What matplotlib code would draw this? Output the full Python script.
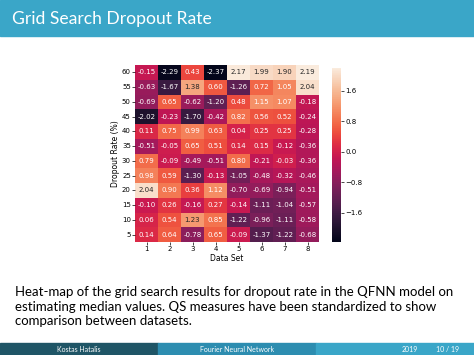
import matplotlib
matplotlib.use("Agg")
import matplotlib.pyplot as plt
import matplotlib.patches as mpatches
import numpy as np
import seaborn as sns

# Data
dropout_rates = [60, 55, 50, 45, 40, 35, 30, 25, 20, 15, 10, 5]
data_sets = [1, 2, 3, 4, 5, 6, 7, 8]
scores = [
    [-0.15, -2.29, 0.43, -2.37, 2.17, 1.99, 1.90, 2.19],
    [-0.63, -1.67, 1.38, 0.60, -1.26, 0.72, 1.05, 2.04],
    [-0.69, 0.65, -0.62, -1.20, 0.48, 1.15, 1.07, -0.18],
    [-2.02, -0.23, -1.70, -0.42, 0.82, 0.56, 0.52, -0.24],
    [0.11, 0.75, 0.99, 0.63, 0.04, 0.25, 0.25, -0.28],
    [-0.51, -0.05, 0.65, 0.51, 0.14, 0.15, -0.12, -0.36],
    [0.79, -0.09, -0.49, -0.51, 0.80, -0.21, -0.03, -0.36],
    [0.98, 0.59, -1.30, -0.13, -1.05, -0.48, -0.32, -0.46],
    [2.04, 0.90, 0.36, 1.12, -0.70, -0.69, -0.94, -0.51],
    [-0.10, 0.26, -0.16, 0.27, -0.14, -1.11, -1.04, -0.57],
    [0.06, 0.54, 1.23, 0.85, -1.22, -0.96, -1.11, -0.58],
    [0.14, 0.64, -0.78, 0.65, -0.09, -1.37, -1.22, -0.68],
]
cbar_ticks = [-1.6, -0.8, 0.0, 0.8, 1.6]

W, H = 474, 355
fig = plt.figure(figsize=(W / 100, H / 100), dpi=100)

# Slide background: title bar and footer
bar_blue = "#3aa6c8"
fig.patches.append(mpatches.Rectangle((0, 1 - 36 / H), 1, 36 / H,
                                      transform=fig.transFigure, color=bar_blue, zorder=0))
foot_h = 12 / H
fig.patches.append(mpatches.Rectangle((0, 0), 158 / W, foot_h,
                                      transform=fig.transFigure, color="#1f5566", zorder=0))
fig.patches.append(mpatches.Rectangle((158 / W, 0), 158 / W, foot_h,
                                      transform=fig.transFigure, color="#2d8db0", zorder=0))
fig.patches.append(mpatches.Rectangle((316 / W, 0), 158 / W, foot_h,
                                      transform=fig.transFigure, color=bar_blue, zorder=0))

fig.text(12 / W, 1 - 19 / H, "Grid Search Dropout Rate", color="white",
         fontsize=12.6, family="Lato", va="center", ha="left")

body = ("Heat-map of the grid search results for dropout rate in the QFNN model on\n"
        "estimating median values. QS measures have been standardized to show\n"
        "comparison between datasets.")
fig.text(15 / W, 1 - 286 / H, body, fontsize=9.5, family="Lato", va="top", ha="left",
         linespacing=1.27, color="black")

fy = foot_h / 2
fig.text(79 / W, fy, "Kostas Hatalis", color="white", fontsize=5, family="Lato",
         ha="center", va="center")
fig.text(237 / W, fy, "Fourier Neural Network", color="white", fontsize=5, family="Lato",
         ha="center", va="center")
fig.text(410 / W, fy, "2019", color="white", fontsize=5, family="Lato",
         ha="center", va="center")
fig.text(448 / W, fy, "10 / 19", color="white", fontsize=5, family="Lato",
         ha="center", va="center")

# Heatmap
ax = fig.add_axes([135 / W, 1 - 242 / H, 184 / W, 177 / H])
cax = fig.add_axes([332 / W, 1 - 242 / H, 9 / W, 174 / H])
sns.heatmap(np.array(scores), ax=ax, cbar_ax=cax, cmap="rocket", annot=True, fmt=".2f",
            annot_kws={"fontsize": 5}, xticklabels=data_sets, yticklabels=dropout_rates)
ax.set_xlabel("Data Set", fontsize=5.5, labelpad=1)
ax.set_ylabel("Dropout Rate (%)", fontsize=5.5, labelpad=1)
ax.tick_params(axis="both", labelsize=5, length=2, width=0.5, pad=1)
ax.tick_params(axis="y", rotation=0)
cax.set_yticks(cbar_ticks)
cax.tick_params(labelsize=5, length=2, width=0.5, pad=1)

fig.savefig("out.png", dpi=100)
